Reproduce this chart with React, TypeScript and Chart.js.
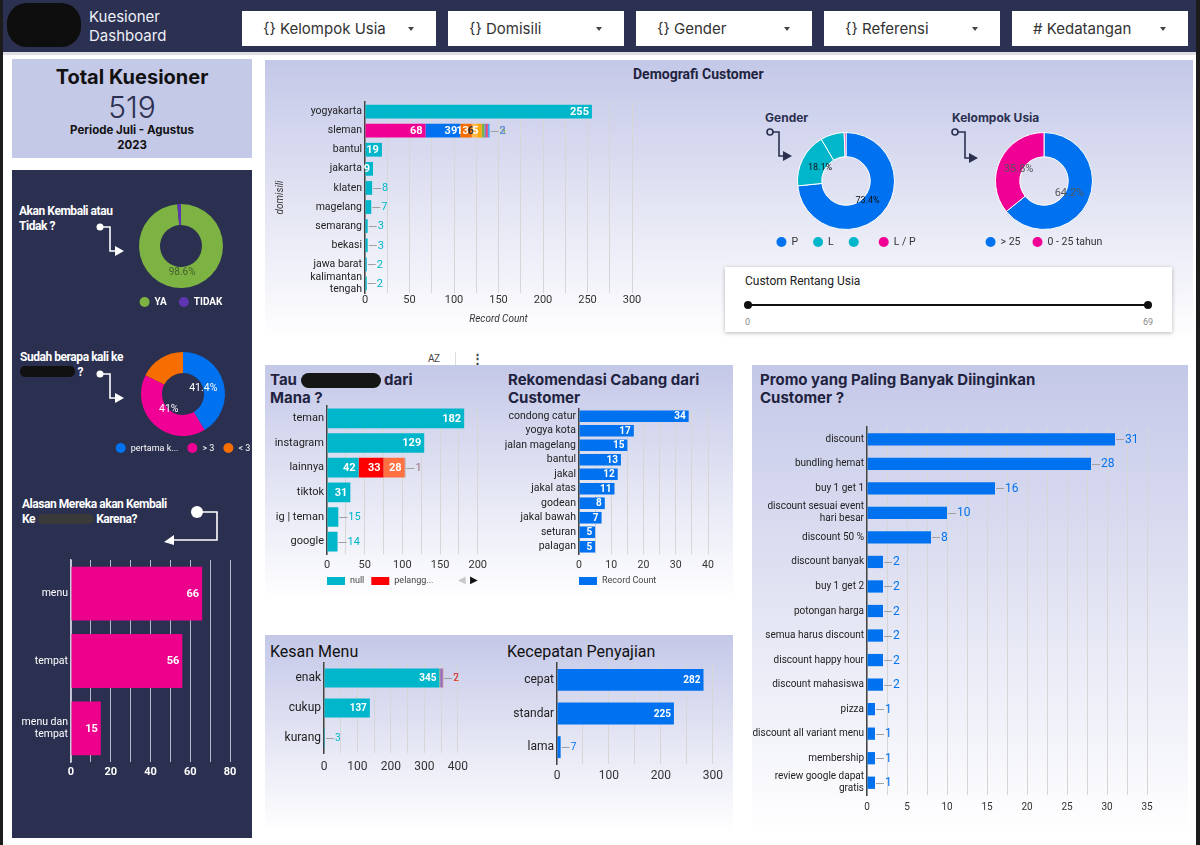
import React, { useEffect, useRef } from 'react';
import { Chart, registerables } from 'chart.js';

Chart.register(...registerables);
Chart.defaults.font.family = 'Roboto, "Noto Sans", sans-serif';
Chart.defaults.color = '#333';

// ---------- palette ----------
const TEAL = '#00b6cb';
const BLUE = '#0072f0';
const PINK = '#f10096';
const ORANGE = '#f66d00';
const YELLOW = '#ffa800';
const GREEN = '#7cb342';
const PURPLE = '#5e35b1';
const NAVY = '#2b3050';

// ---------- data ----------
const domisiliLabels: (string | string[])[] = ['yogyakarta', 'sleman', 'bantul', 'jakarta', 'klaten', 'magelang', 'semarang', 'bekasi', 'jawa barat', ['kalimantan', 'tengah']];
const domisiliNull = [255, 0, 19, 9, 8, 7, 3, 3, 2, 2];
const slemanSegments = [68, 39, 13, 6, 5, 3, 2, 2, 2];
const slemanColors = [PINK, BLUE, ORANGE, '#ffb74d', YELLOW, GREEN, '#7986cb', '#ec407a', '#42a5f5'];

const genderLabels = ['P', 'L', '', 'L / P'];
const genderPct = [73.4, 18.1, 7.9, 0.6];
const genderColors = [BLUE, TEAL, TEAL, PINK];

const usiaLabels = ['> 25', '0 - 25 tahun'];
const usiaPct = [64.2, 35.8];
const usiaColors = [BLUE, PINK];

const kembaliLabels = ['YA', 'TIDAK'];
const kembaliPct = [98.6, 1.4];
const kembaliColors = [GREEN, PURPLE];

const kunjunganLabels = ['pertama k...', '> 3', '< 3'];
const kunjunganPct = [41.4, 41.0, 17.6];
const kunjunganColors = [BLUE, PINK, ORANGE];

const alasanLabels: (string | string[])[] = ['menu', 'tempat', ['menu dan', 'tempat']];
const alasanValues = [66, 56, 15];

const tauLabels = ['teman', 'instagram', 'lainnya', 'tiktok', 'ig | teman', 'google'];
const tauNull = [182, 129, 42, 31, 15, 14];
const tauPelanggan = [0, 0, 33, 0, 0, 0];
const tauLain3 = [0, 0, 28, 0, 0, 0];
const tauLain4 = [0, 0, 1, 0, 0, 0];

const cabangLabels = ['condong catur', 'yogya kota', 'jalan magelang', 'bantul', 'jakal', 'jakal atas', 'godean', 'jakal bawah', 'seturan', 'palagan'];
const cabangValues = [34, 17, 15, 13, 12, 11, 8, 7, 5, 5];

const promoLabels: (string | string[])[] = ['discount', 'bundling hemat', 'buy 1 get 1', ['discount sesuai event', 'hari besar'], 'discount 50 %', 'discount banyak', 'buy 1 get 2', 'potongan harga', 'semua harus discount', 'discount happy hour', 'discount mahasiswa', 'pizza', 'discount all variant menu', 'membership', ['review google dapat', 'gratis']];
const promoValues = [31, 28, 16, 10, 8, 2, 2, 2, 2, 2, 2, 1, 1, 1, 1];

const kesanLabels = ['enak', 'cukup', 'kurang'];
const kesanMain = [345, 137, 3];
const kesanExtraA = [2, 0, 0];
const kesanExtraB = [7, 0, 0];
const kesanExtraC = [2, 0, 0];

const kecepatanLabels = ['cepat', 'standar', 'lama'];
const kecepatanValues = [282, 225, 7];

const filterLabels = ['{} Kelompok Usia', '{} Domisili', '{} Gender', '{} Referensi', '# Kedatangan'];

// ---------- bar chart factory ----------
type DS = { label: string; data: number[]; color: string | string[]; insideColor?: string; labelColor?: string };
type BarCfg = {
  labels: (string | string[])[];
  datasets: DS[];
  max: number; step: number; labelStep: number;
  yWidth: number; xHeight: number;
  pad: [number, number, number];
  barPct: number;
  yFont: number; xFont: number; xBold?: boolean;
  yColor: string; xColor: string; gridColor: string; axisColor: string;
  valFont: number; outFont: number; outBold?: boolean; fitPad: number; allOutside?: boolean; minInside?: number;
  tickPad: number;
  xTitle?: string; yTitle?: string;
  legendCount?: number; legendOffset?: number;
};

function makeBar(canvas: HTMLCanvasElement, cfg: BarCfg): Chart {
  const valuePlugin = {
    id: 'valueLabels',
    afterDatasetsDraw(chart: any) {
      const ctx = chart.ctx as CanvasRenderingContext2D;
      ctx.save();
      ctx.textBaseline = 'middle';
      cfg.labels.forEach((_, j) => {
        let last = -1;
        cfg.datasets.forEach((d, i) => { if (d.data[j] > 0) last = i; });
        let end = -Infinity;
        let yy = 0;
        const outs: { v: number; c: string }[] = [];
        cfg.datasets.forEach((d, i) => {
          const v = d.data[j];
          if (!v) return;
          const el: any = chart.getDatasetMeta(i).data[j];
          const p = el.getProps(['x', 'y', 'base'], true);
          const w = p.x - p.base;
          yy = p.y;
          const txt = String(v);
          ctx.font = `bold ${cfg.valFont}px Roboto`;
          const tw = ctx.measureText(txt).width;
          const col = Array.isArray(d.color) ? d.color[j] : d.color;
          let inside: boolean;
          if (cfg.allOutside) inside = false;
          else if (i !== last) inside = w >= 4;
          else if (cfg.minInside !== undefined) inside = v >= cfg.minInside;
          else inside = w >= tw + cfg.fitPad;
          if (inside) {
            ctx.fillStyle = d.insideColor || '#ffffff';
            ctx.textAlign = 'right';
            ctx.fillText(txt, p.x - 3, p.y + 0.5);
          } else {
            outs.push({ v, c: d.labelColor || col });
          }
          end = Math.max(end, p.x);
        });
        if (outs.length) {
          const ly = Math.round(yy) + 0.5;
          ctx.strokeStyle = '#a0a0a0';
          ctx.lineWidth = 1;
          ctx.beginPath();
          ctx.moveTo(end + 1, ly);
          ctx.lineTo(end + 9, ly);
          ctx.stroke();
          ctx.font = `${cfg.outBold ? 'bold ' : ''}${cfg.outFont}px Roboto`;
          ctx.textAlign = 'left';
          outs.forEach((o) => { ctx.fillStyle = o.c; ctx.fillText(String(o.v), end + 10, yy + 0.5); });
        }
      });
      ctx.restore();
    },
  };
  const legendPlugin = {
    id: 'boxLegend',
    afterDraw(chart: any) {
      if (!cfg.legendCount) return;
      const ctx = chart.ctx as CanvasRenderingContext2D;
      const area = chart.chartArea;
      const y = area.bottom + (cfg.legendOffset || 0);
      let x = area.left;
      ctx.save();
      ctx.font = '9px Roboto';
      ctx.textBaseline = 'middle';
      ctx.textAlign = 'left';
      for (let i = 0; i < cfg.legendCount; i++) {
        const d = cfg.datasets[i];
        const col = Array.isArray(d.color) ? d.color[0] : d.color;
        ctx.fillStyle = col;
        ctx.fillRect(x, y - 4, 18, 8);
        ctx.fillStyle = '#444';
        ctx.fillText(d.label, x + 23, y);
        x += 23 + ctx.measureText(d.label).width + 7;
      }
      ctx.restore();
    },
  };
  return new Chart(canvas, {
    type: 'bar',
    data: {
      labels: cfg.labels as any,
      datasets: cfg.datasets.map((d) => ({
        label: d.label,
        data: d.data,
        backgroundColor: d.color as any,
        borderWidth: 0,
        barPercentage: cfg.barPct,
        categoryPercentage: 1,
      })),
    },
    options: {
      indexAxis: 'y',
      animation: false,
      responsive: true,
      maintainAspectRatio: false,
      layout: { padding: { top: cfg.pad[0], right: cfg.pad[1], bottom: cfg.pad[2], left: 0 } },
      plugins: { legend: { display: false }, tooltip: { enabled: false } },
      scales: {
        x: {
          stacked: true,
          min: 0,
          max: cfg.max,
          grid: { color: cfg.gridColor, drawTicks: false, lineWidth: 1 },
          border: { display: false },
          ticks: {
            stepSize: cfg.step,
            autoSkip: false,
            maxRotation: 0,
            padding: cfg.tickPad,
            color: cfg.xColor,
            font: { size: cfg.xFont, weight: cfg.xBold ? 'bold' : 'normal' },
            callback: (v: any) => {
              const r = Number(v) / cfg.labelStep;
              return Math.abs(r - Math.round(r)) < 1e-6 ? String(v) : '';
            },
          },
          title: cfg.xTitle
            ? { display: true, text: cfg.xTitle, color: '#333', font: { size: 10, style: 'italic' }, padding: { top: 0, bottom: 4 } }
            : { display: false },
          afterFit: (s: any) => { s.height = cfg.xHeight; },
        },
        y: {
          stacked: true,
          grid: { display: false, drawTicks: false },
          border: { display: true, color: cfg.axisColor, width: 1.5 },
          ticks: { autoSkip: false, color: cfg.yColor, font: { size: cfg.yFont }, padding: 3 },
          title: cfg.yTitle
            ? { display: true, text: cfg.yTitle, color: '#333', font: { size: 10, style: 'italic' } }
            : { display: false },
          afterFit: (s: any) => { s.width = cfg.yWidth; s.paddingTop = 0; s.paddingBottom = 0; },
        },
      },
    } as any,
    plugins: [valuePlugin, legendPlugin],
  });
}

// ---------- doughnut factory ----------
type DonutCfg = {
  labels: string[]; values: number[]; colors: string[];
  border: number; borderColor: string;
  pctColor: string; pctFont: number; pctBold?: boolean; labelR: number; minPct: number;
  legendSpace: number; legendOffset: number; legendFont: number; legendBold?: boolean; legendColor: string; legendGap: number;
};

function makeDonut(canvas: HTMLCanvasElement, cfg: DonutCfg): Chart {
  const total = cfg.values.reduce((a, b) => a + b, 0);
  const pctPlugin = {
    id: 'pctLabels',
    afterDatasetsDraw(chart: any) {
      const ctx = chart.ctx as CanvasRenderingContext2D;
      const meta = chart.getDatasetMeta(0);
      ctx.save();
      ctx.font = `${cfg.pctBold ? 'bold ' : ''}${cfg.pctFont}px Roboto`;
      ctx.fillStyle = cfg.pctColor;
      ctx.textAlign = 'center';
      ctx.textBaseline = 'middle';
      meta.data.forEach((arc: any, i: number) => {
        const pct = (cfg.values[i] / total) * 100;
        if (pct < cfg.minPct) return;
        const p = arc.getProps(['x', 'y', 'startAngle', 'endAngle', 'outerRadius'], true);
        const a = (p.startAngle + p.endAngle) / 2;
        const r = p.outerRadius * cfg.labelR;
        const txt = `${Math.round(pct * 10) / 10}%`;
        ctx.fillText(txt, p.x + Math.cos(a) * r, p.y + Math.sin(a) * r);
      });
      ctx.restore();
    },
  };
  const legendPlugin = {
    id: 'dotLegend',
    afterDraw(chart: any) {
      const ctx = chart.ctx as CanvasRenderingContext2D;
      const area = chart.chartArea;
      const cx = (area.left + area.right) / 2;
      const y = area.bottom + cfg.legendOffset;
      const R = 5;
      ctx.save();
      ctx.font = `${cfg.legendBold ? 'bold ' : ''}${cfg.legendFont}px Roboto`;
      ctx.textBaseline = 'middle';
      ctx.textAlign = 'left';
      const widths = cfg.labels.map((l) => 2 * R + 5 + ctx.measureText(l).width);
      const tot = widths.reduce((a, b) => a + b, 0) + cfg.legendGap * (widths.length - 1);
      let x = cx - tot / 2;
      cfg.labels.forEach((l, i) => {
        ctx.fillStyle = cfg.colors[i];
        ctx.beginPath();
        ctx.arc(x + R, y, R, 0, Math.PI * 2);
        ctx.fill();
        ctx.fillStyle = cfg.legendColor;
        ctx.fillText(l, x + 2 * R + 5, y + 0.5);
        x += widths[i] + cfg.legendGap;
      });
      ctx.restore();
    },
  };
  return new Chart(canvas, {
    type: 'doughnut',
    data: {
      labels: cfg.labels,
      datasets: [{ data: cfg.values, backgroundColor: cfg.colors, borderWidth: cfg.border, borderColor: cfg.borderColor }],
    },
    options: {
      animation: false,
      responsive: true,
      maintainAspectRatio: false,
      cutout: '50%',
      layout: { padding: { bottom: cfg.legendSpace } },
      plugins: { legend: { display: false }, tooltip: { enabled: false } },
    } as any,
    plugins: [pctPlugin, legendPlugin],
  });
}

// ---------- components ----------
function ChartBox({ box, make }: { box: number[]; make: (c: HTMLCanvasElement) => Chart }) {
  const ref = useRef<HTMLCanvasElement | null>(null);
  useEffect(() => {
    const ch = make(ref.current as HTMLCanvasElement);
    return () => ch.destroy();
  }, []);
  return (
    <div style={{ position: 'absolute', left: box[0], top: box[1], width: box[2], height: box[3] }}>
      <canvas ref={ref} />
    </div>
  );
}

function Abs({ x, y, w, h, s, children }: { x: number; y: number; w?: number; h?: number; s?: React.CSSProperties; children?: React.ReactNode }) {
  return (
    <div style={{ position: 'absolute', left: x, top: y, width: w, height: h, whiteSpace: 'nowrap', ...s }}>{children}</div>
  );
}

const PANEL_BG = 'linear-gradient(180deg, #c4c8e8 0%, #e2e4f3 50%, #ffffff 100%)';
const TITLE_FONT: React.CSSProperties = { fontFamily: 'Inter, "Open Sans", sans-serif', fontWeight: 700, fontSize: 15, lineHeight: '18px', color: '#1f2340' };
const Q_FONT: React.CSSProperties = { fontFamily: 'Roboto, sans-serif', fontWeight: 700, fontSize: 12, lineHeight: '15px', color: '#ffffff', letterSpacing: -0.45 };

const darkBar = {
  yColor: '#ffffff', xColor: '#ffffff', gridColor: '#b8bac8', axisColor: '#c8cad6',
};
const lightBar = {
  yColor: '#222', xColor: '#333', gridColor: '#d6d6d6', axisColor: '#444',
};

export default function App() {
  const dropX = [[242, 436], [448, 624], [636, 812], [824, 1000], [1012, 1188]];
  return (
    <div style={{ position: 'fixed', left: 0, top: 0, width: 1200, height: 845, background: '#ffffff', overflow: 'hidden', fontFamily: 'Roboto, sans-serif' }}>
      {/* header */}
      <Abs x={0} y={0} w={1200} h={52} s={{ background: '#2c3152' }} />
      <Abs x={0} y={52} w={1200} h={3} s={{ background: '#dedee4' }} />
      <Abs x={7} y={3} w={74} h={44} s={{ background: '#0e0e0e', borderRadius: 20 }} />
      <Abs x={89} y={7} s={{ fontFamily: 'Inter, sans-serif', fontSize: 15, lineHeight: '19px', color: '#eef0f7' }}>Kuesioner<br />Dashboard</Abs>
      {filterLabels.map((t, i) => (
        <Abs key={t} x={dropX[i][0]} y={11} w={dropX[i][1] - dropX[i][0]} h={35} s={{ background: '#ffffff' }}>
          <div style={{ position: 'absolute', left: 21, top: 8, fontFamily: 'Inter, sans-serif', fontSize: 15, color: '#333' }}>{t}</div>
          <div style={{ position: 'absolute', right: 22, top: 16, width: 0, height: 0, borderLeft: '3.5px solid transparent', borderRight: '3.5px solid transparent', borderTop: '4px solid #444' }} />
        </Abs>
      ))}
      {/* frame */}
      <Abs x={0} y={0} w={3} h={845} s={{ background: '#1c1c1c' }} />
      <Abs x={1196} y={0} w={4} h={845} s={{ background: '#1c1c1c' }} />

      {/* left summary */}
      <Abs x={12} y={59} w={240} h={99} s={{ background: '#c5c9e8' }}>
        <div style={{ position: 'absolute', left: 0, width: 240, top: 6, textAlign: 'center', fontFamily: 'Inter, sans-serif', fontWeight: 700, fontSize: 20, color: '#111' }}>Total Kuesioner</div>
        <div style={{ position: 'absolute', left: 0, width: 240, top: 30, textAlign: 'center', fontFamily: 'Inter, sans-serif', fontWeight: 300, fontSize: 30, color: NAVY }}>519</div>
        <div style={{ position: 'absolute', left: 0, width: 240, top: 64, textAlign: 'center', fontFamily: 'Inter, sans-serif', fontWeight: 700, fontSize: 11.5, lineHeight: '15px', color: '#111' }}>Periode Juli - Agustus<br />2023</div>
      </Abs>
      <Abs x={12} y={170} w={240} h={668} s={{ background: NAVY }} />
      <Abs x={19} y={204} s={Q_FONT}>Akan Kembali atau<br />Tidak ?</Abs>
      <Abs x={20} y={350} s={Q_FONT}>Sudah berapa kali ke<br /><span style={{ display: 'inline-block', width: 55, height: 11, background: '#111', borderRadius: 5, verticalAlign: -1 }} /> ?</Abs>
      <Abs x={22} y={497} s={Q_FONT}>Alasan Mereka akan Kembali<br />Ke <span style={{ display: 'inline-block', width: 56, height: 10, background: '#3a3a3a', borderRadius: 5, verticalAlign: -1 }} /> Karena?</Abs>

      <ChartBox box={[111, 204, 140, 114]} make={(c) => makeDonut(c, {
        labels: kembaliLabels, values: kembaliPct, colors: kembaliColors, border: 0, borderColor: NAVY,
        pctColor: '#46602f', pctFont: 10, labelR: 0.62, minPct: 18,
        legendSpace: 30, legendOffset: 14, legendFont: 10, legendBold: true, legendColor: '#ffffff', legendGap: 12,
      })} />
      <ChartBox box={[113, 352, 140, 112]} make={(c) => makeDonut(c, {
        labels: kunjunganLabels, values: kunjunganPct, colors: kunjunganColors, border: 0, borderColor: NAVY,
        pctColor: '#ffffff', pctFont: 10.5, labelR: 0.5, minPct: 18,
        legendSpace: 28, legendOffset: 12, legendFont: 9, legendColor: '#ffffff', legendGap: 9,
      })} />
      <ChartBox box={[12, 558, 230, 224]} make={(c) => makeBar(c, {
        labels: alasanLabels,
        datasets: [{ label: 'Record Count', data: alasanValues, color: '#ec008c' }],
        max: 80, step: 10, labelStep: 20, yWidth: 59, xHeight: 20, pad: [2, 12, 0], barPct: 0.8,
        yFont: 10.5, xFont: 11, xBold: true, ...darkBar, valFont: 11, outFont: 11, fitPad: 4, tickPad: 4,
      })} />

      {/* Demografi panel */}
      <Abs x={265} y={60} w={928} h={280} s={{ background: PANEL_BG }} />
      <Abs x={633} y={66} s={{ fontFamily: 'Roboto, sans-serif', fontWeight: 700, fontSize: 14, color: '#1f2340' }}>Demografi Customer</Abs>
      <ChartBox box={[270, 100, 380, 229]} make={(c) => makeBar(c, {
        labels: domisiliLabels,
        datasets: [
          { label: 'null', data: domisiliNull, color: TEAL },
          ...slemanSegments.map((v, k) => ({
            label: `sleman-${k}`,
            data: domisiliNull.map((_, j) => (j === 1 ? v : 0)),
            color: slemanColors[k],
            insideColor: k === 3 ? '#333' : undefined,
          })),
        ],
        max: 300, step: 25, labelStep: 50, yWidth: 95, xHeight: 36, pad: [2, 18, 0], barPct: 0.72,
        yFont: 10.5, xFont: 11, ...lightBar, valFont: 11, outFont: 11, fitPad: 1.5, minInside: 9, tickPad: 1,
        xTitle: 'Record Count', yTitle: 'domisili',
      })} />
      <Abs x={765} y={110} s={{ fontFamily: 'Inter, sans-serif', fontWeight: 700, fontSize: 12, color: NAVY }}>Gender</Abs>
      <Abs x={952} y={110} s={{ fontFamily: 'Inter, sans-serif', fontWeight: 700, fontSize: 12, color: NAVY }}>Kelompok Usia</Abs>
      <ChartBox box={[761, 132, 170, 120]} make={(c) => makeDonut(c, {
        labels: genderLabels, values: genderPct, colors: genderColors, border: 1, borderColor: '#ffffff',
        pctColor: '#111', pctFont: 9, labelR: 0.6, minPct: 18,
        legendSpace: 22, legendOffset: 12, legendFont: 10.5, legendColor: '#333', legendGap: 15,
      })} />
      <ChartBox box={[959, 132, 170, 120]} make={(c) => makeDonut(c, {
        labels: usiaLabels, values: usiaPct, colors: usiaColors, border: 1, borderColor: '#ffffff',
        pctColor: '#555', pctFont: 11, labelR: 0.58, minPct: 18,
        legendSpace: 22, legendOffset: 12, legendFont: 10.5, legendColor: '#333', legendGap: 12,
      })} />
      <Abs x={725} y={267} w={447} h={65} s={{ background: '#ffffff', boxShadow: '0 1px 4px rgba(0,0,0,0.28)' }}>
        <div style={{ position: 'absolute', left: 20, top: 7, fontSize: 12, color: '#222' }}>Custom Rentang Usia</div>
        <div style={{ position: 'absolute', left: 23, top: 37, width: 400, height: 2, background: '#111' }} />
        <div style={{ position: 'absolute', left: 19, top: 34, width: 8, height: 8, borderRadius: 4, background: '#111' }} />
        <div style={{ position: 'absolute', left: 419, top: 34, width: 8, height: 8, borderRadius: 4, background: '#111' }} />
        <div style={{ position: 'absolute', left: 20, top: 50, fontSize: 9, color: '#888' }}>0</div>
        <div style={{ position: 'absolute', left: 418, top: 50, fontSize: 9, color: '#888' }}>69</div>
      </Abs>

      {/* toolbar icons */}
      <Abs x={428} y={353} s={{ fontSize: 10, color: '#444', letterSpacing: -0.5 }}>AZ</Abs>
      <Abs x={455} y={352} w={1} h={16} s={{ background: '#ddd' }} />
      <Abs x={471} y={351} s={{ fontSize: 13, color: '#444', fontWeight: 700 }}>⋮</Abs>

      {/* Tau + Rekomendasi panel */}
      <Abs x={265} y={365} w={468} h={235} s={{ background: PANEL_BG }} />
      <Abs x={270} y={371} s={TITLE_FONT}>Tau <span style={{ display: 'inline-block', width: 80, height: 15, background: '#151515', borderRadius: 8, verticalAlign: -3 }} /> dari<br />Mana ?</Abs>
      <Abs x={508} y={371} s={TITLE_FONT}>Rekomendasi Cabang dari<br />Customer</Abs>
      <ChartBox box={[270, 404, 222, 193]} make={(c) => makeBar(c, {
        labels: tauLabels,
        datasets: [
          { label: 'null', data: tauNull, color: TEAL },
          { label: 'pelangg...', data: tauPelanggan, color: '#ff0000' },
          { label: 'lainnya', data: tauLain3, color: '#ff7043' },
          { label: 'lainnya-2', data: tauLain4, color: '#9e8a8a', labelColor: '#a0707e' },
        ],
        max: 200, step: 25, labelStep: 50, yWidth: 57, xHeight: 18, pad: [2, 14, 25], barPct: 0.8,
        yFont: 11, xFont: 11, ...lightBar, valFont: 11, outFont: 11, fitPad: 4, tickPad: 5,
        legendCount: 2, legendOffset: 27,
      })} />
      <Abs x={458} y={574} s={{ fontSize: 10, color: '#c8c8c8' }}>◀</Abs>
      <Abs x={470} y={574} s={{ fontSize: 10, color: '#111' }}>▶</Abs>
      <ChartBox box={[505, 407, 217, 190]} make={(c) => makeBar(c, {
        labels: cabangLabels,
        datasets: [{ label: 'Record Count', data: cabangValues, color: BLUE }],
        max: 40, step: 5, labelStep: 10, yWidth: 74, xHeight: 18, pad: [2, 14, 25], barPct: 0.8,
        yFont: 10.5, xFont: 10.5, ...lightBar, valFont: 10, outFont: 10, fitPad: 4, tickPad: 5,
        legendCount: 1, legendOffset: 27,
      })} />

      {/* Promo panel */}
      <Abs x={752} y={365} w={436} h={470} s={{ background: PANEL_BG }} />
      <Abs x={760} y={371} s={TITLE_FONT}>Promo yang Paling Banyak Diinginkan<br />Customer ?</Abs>
      <ChartBox box={[752, 425, 409, 390]} make={(c) => makeBar(c, {
        labels: promoLabels,
        datasets: [{ label: 'Record Count', data: promoValues, color: BLUE }],
        max: 35, step: 2.5, labelStep: 5, yWidth: 115, xHeight: 20, pad: [2, 14, 0], barPct: 0.5,
        yFont: 10, xFont: 10, ...lightBar, valFont: 11, outFont: 12, fitPad: 4, allOutside: true, tickPad: 6,
      })} />

      {/* Kesan + Kecepatan panel */}
      <Abs x={265} y={635} w={468} h={197} s={{ background: PANEL_BG }} />
      <Abs x={270} y={642} s={{ fontSize: 16, color: '#111' }}>Kesan Menu</Abs>
      <Abs x={507} y={642} s={{ fontSize: 16, color: '#111' }}>Kecepatan Penyajian</Abs>
      <ChartBox box={[268, 661, 207, 114]} make={(c) => makeBar(c, {
        labels: kesanLabels,
        datasets: [
          { label: 'null', data: kesanMain, color: TEAL },
          { label: 'a', data: kesanExtraA, color: YELLOW },
          { label: 'b', data: kesanExtraB, color: '#8e6fc9', labelColor: '#9c5bb5' },
          { label: 'c', data: kesanExtraC, color: '#e53935' },
        ],
        max: 400, step: 50, labelStep: 100, yWidth: 56, xHeight: 22, pad: [2, 14, 0], barPct: 0.63,
        yFont: 12, xFont: 12, ...lightBar, valFont: 10, outFont: 10, fitPad: 4, tickPad: 7,
      })} />
      <ChartBox box={[507, 661, 221, 123]} make={(c) => makeBar(c, {
        labels: kecepatanLabels,
        datasets: [{ label: 'Record Count', data: kecepatanValues, color: BLUE }],
        max: 300, step: 50, labelStep: 100, yWidth: 50, xHeight: 20, pad: [2, 14, 0], barPct: 0.65,
        yFont: 12, xFont: 12, ...lightBar, valFont: 10, outFont: 10, fitPad: 4, tickPad: 5,
      })} />

      {/* connectors */}
      <svg width={1200} height={845} style={{ position: 'absolute', left: 0, top: 0, pointerEvents: 'none' }}>
        <g stroke="#ffffff" strokeWidth={1.6} fill="none">
          <path d="M100 227 H110 V251 H116" />
          <path d="M100 374 H110 V398 H116" />
          <path d="M197 512 H217 V540 H172" />
        </g>
        <g fill="#ffffff">
          <circle cx={100} cy={227} r={3.5} />
          <circle cx={100} cy={374} r={3.5} />
          <circle cx={197} cy={512} r={6} />
          <polygon points="115,246 124,251 115,256" />
          <polygon points="115,393 124,398 115,403" />
          <polygon points="174,535 164,542 174,545" />
        </g>
        <g stroke={NAVY} strokeWidth={1.6} fill="none">
          <circle cx={770} cy={132} r={3} />
          <path d="M773 132 H779 V156 H784" />
          <circle cx={955} cy={132} r={3} />
          <path d="M958 132 H965 V158 H970" />
        </g>
        <g fill={NAVY}>
          <polygon points="783,151 792,156 783,161" />
          <polygon points="969,153 978,158 969,163" />
        </g>
      </svg>
    </div>
  );
}
